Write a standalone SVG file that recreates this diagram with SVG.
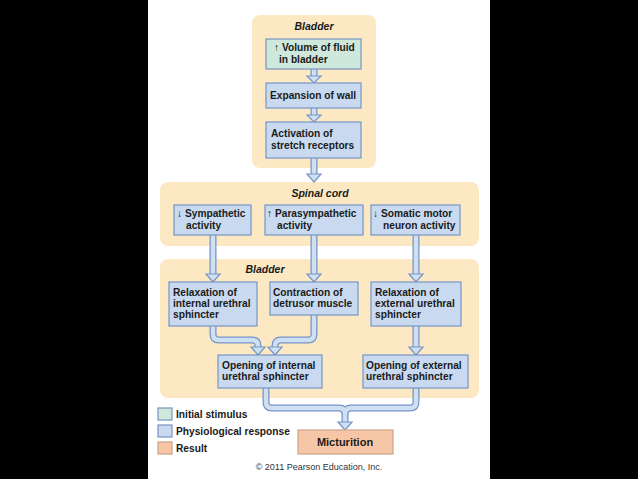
<svg xmlns="http://www.w3.org/2000/svg" width="638" height="479" viewBox="0 0 638 479">
<style>
.pan{fill:#fce9c4}
.bx{fill:#c9daf0;stroke:#7794c4;stroke-width:1.2}
.t{font-family:"Liberation Sans",Arial,sans-serif;font-weight:bold;font-size:10.2px;fill:#1a1a1a}
.h{font-family:"Liberation Sans",Arial,sans-serif;font-weight:bold;font-style:italic;font-size:10.5px;fill:#1a1a1a}
.o{fill:none;stroke:#7794c4;stroke-width:7}
.i{fill:none;stroke:#cfe0f3;stroke-width:4.5}
.ah{fill:#cfe0f3;stroke:#7794c4;stroke-width:1.2}
</style>
<rect width="638" height="479" fill="#000"/>
<rect x="148" y="0" width="342" height="479" fill="#fff"/>
<rect class="pan" x="252" y="15" width="124" height="153" rx="8"/>
<rect class="pan" x="160" y="182" width="319" height="64" rx="8"/>
<rect class="pan" x="160" y="259" width="319" height="139" rx="8"/>
<text class="h" x="314" y="30" text-anchor="middle">Bladder</text>
<text class="h" x="320" y="197" text-anchor="middle">Spinal cord</text>
<text class="h" x="265" y="273" text-anchor="middle">Bladder</text>
<g id="connectors">
<path class="o" d="M314 69V78M314 108V117M314 158V176M213 234V276M314 234V276M416 234V276M213 326V334Q213 340 219 340H252Q258 340 258 346V349M314 315V334Q314 340 308 340H281Q275 340 275 346V349M416 326V349M266 388V402Q266 408 272 408H339Q345 408 345 414V424M416 388V402Q416 408 410 408H351Q345 408 345 414"/>
<path class="i" d="M314 69V78M314 108V117M314 158V176M213 234V276M314 234V276M416 234V276M213 326V334Q213 340 219 340H252Q258 340 258 346V349M314 315V334Q314 340 308 340H281Q275 340 275 346V349M416 326V349M266 388V402Q266 408 272 408H339Q345 408 345 414V424M416 388V402Q416 408 410 408H351Q345 408 345 414"/>
<polygon class="ah" points="307,76 321,76 314,83"/>
<polygon class="ah" points="307,115 321,115 314,122"/>
<polygon class="ah" points="307,174 321,174 314,182"/>
<polygon class="ah" points="206,274 220,274 213,282"/>
<polygon class="ah" points="307,274 321,274 314,282"/>
<polygon class="ah" points="409,274 423,274 416,282"/>
<polygon class="ah" points="251,347 265,347 258,355"/>
<polygon class="ah" points="268,347 282,347 275,355"/>
<polygon class="ah" points="409,347 423,347 416,355"/>
<polygon class="ah" points="338,422 352,422 345,430"/>
</g>
<g id="n1"><rect class="bx" x="266" y="39" width="95" height="30" style="fill:#cfe8dc"/><text class="t" x="274" y="51">↑ Volume of fluid</text><text class="t" x="279" y="63">in bladder</text></g>
<g id="n2"><rect class="bx" x="266" y="83" width="95" height="25"/><text class="t" x="270" y="99">Expansion of wall</text></g>
<g id="n3"><rect class="bx" x="266" y="122" width="95" height="36"/><text class="t" x="271" y="137">Activation of</text><text class="t" x="271" y="149">stretch receptors</text></g>
<g id="n4"><rect class="bx" x="174" y="205" width="77" height="30"/><text class="t" x="177" y="217">↓ Sympathetic</text><text class="t" x="186" y="229">activity</text></g>
<g id="n5"><rect class="bx" x="265" y="205" width="98" height="30"/><text class="t" x="267" y="217">↑ Parasympathetic</text><text class="t" x="277" y="229">activity</text></g>
<g id="n6"><rect class="bx" x="371" y="205" width="89" height="30"/><text class="t" x="373" y="217">↓ Somatic motor</text><text class="t" x="383" y="229">neuron activity</text></g>
<g id="n7"><rect class="bx" x="169" y="282" width="88" height="44"/><text class="t" x="173" y="296">Relaxation of</text><text class="t" x="173" y="307">internal urethral</text><text class="t" x="173" y="318">sphincter</text></g>
<g id="n8"><rect class="bx" x="270" y="282" width="88" height="33"/><text class="t" x="273" y="296">Contraction of</text><text class="t" x="273" y="307">detrusor muscle</text></g>
<g id="n9"><rect class="bx" x="371" y="282" width="90" height="44"/><text class="t" x="375" y="296">Relaxation of</text><text class="t" x="375" y="307">external urethral</text><text class="t" x="375" y="318">sphincter</text></g>
<g id="n10"><rect class="bx" x="218" y="355" width="104" height="33"/><text class="t" x="222" y="369">Opening of internal</text><text class="t" x="222" y="380">urethral sphincter</text></g>
<g id="n11"><rect class="bx" x="363" y="355" width="105" height="33"/><text class="t" x="366" y="369">Opening of external</text><text class="t" x="366" y="380">urethral sphincter</text></g>
<g id="n12"><rect class="bx" x="298" y="430" width="95" height="24" style="fill:#f7c6a6;stroke:#c9a58a"/><text class="t" x="345" y="446" text-anchor="middle" style="font-size:11px">Micturition</text></g>
<g id="legend">
<rect class="bx" x="158" y="408" width="14" height="12" style="fill:#cfe8dc"/><text class="t" x="176" y="418">Initial stimulus</text>
<rect class="bx" x="158" y="425" width="14" height="12"/><text class="t" x="176" y="435">Physiological response</text>
<rect class="bx" x="158" y="442" width="14" height="12" style="fill:#f7c6a6;stroke:#c9a58a"/><text class="t" x="176" y="452">Result</text>
</g>
<text x="319" y="470" text-anchor="middle" style="font-family:'Liberation Sans',Arial,sans-serif;font-size:9px;fill:#333">© 2011 Pearson Education, Inc.</text>
</svg>
